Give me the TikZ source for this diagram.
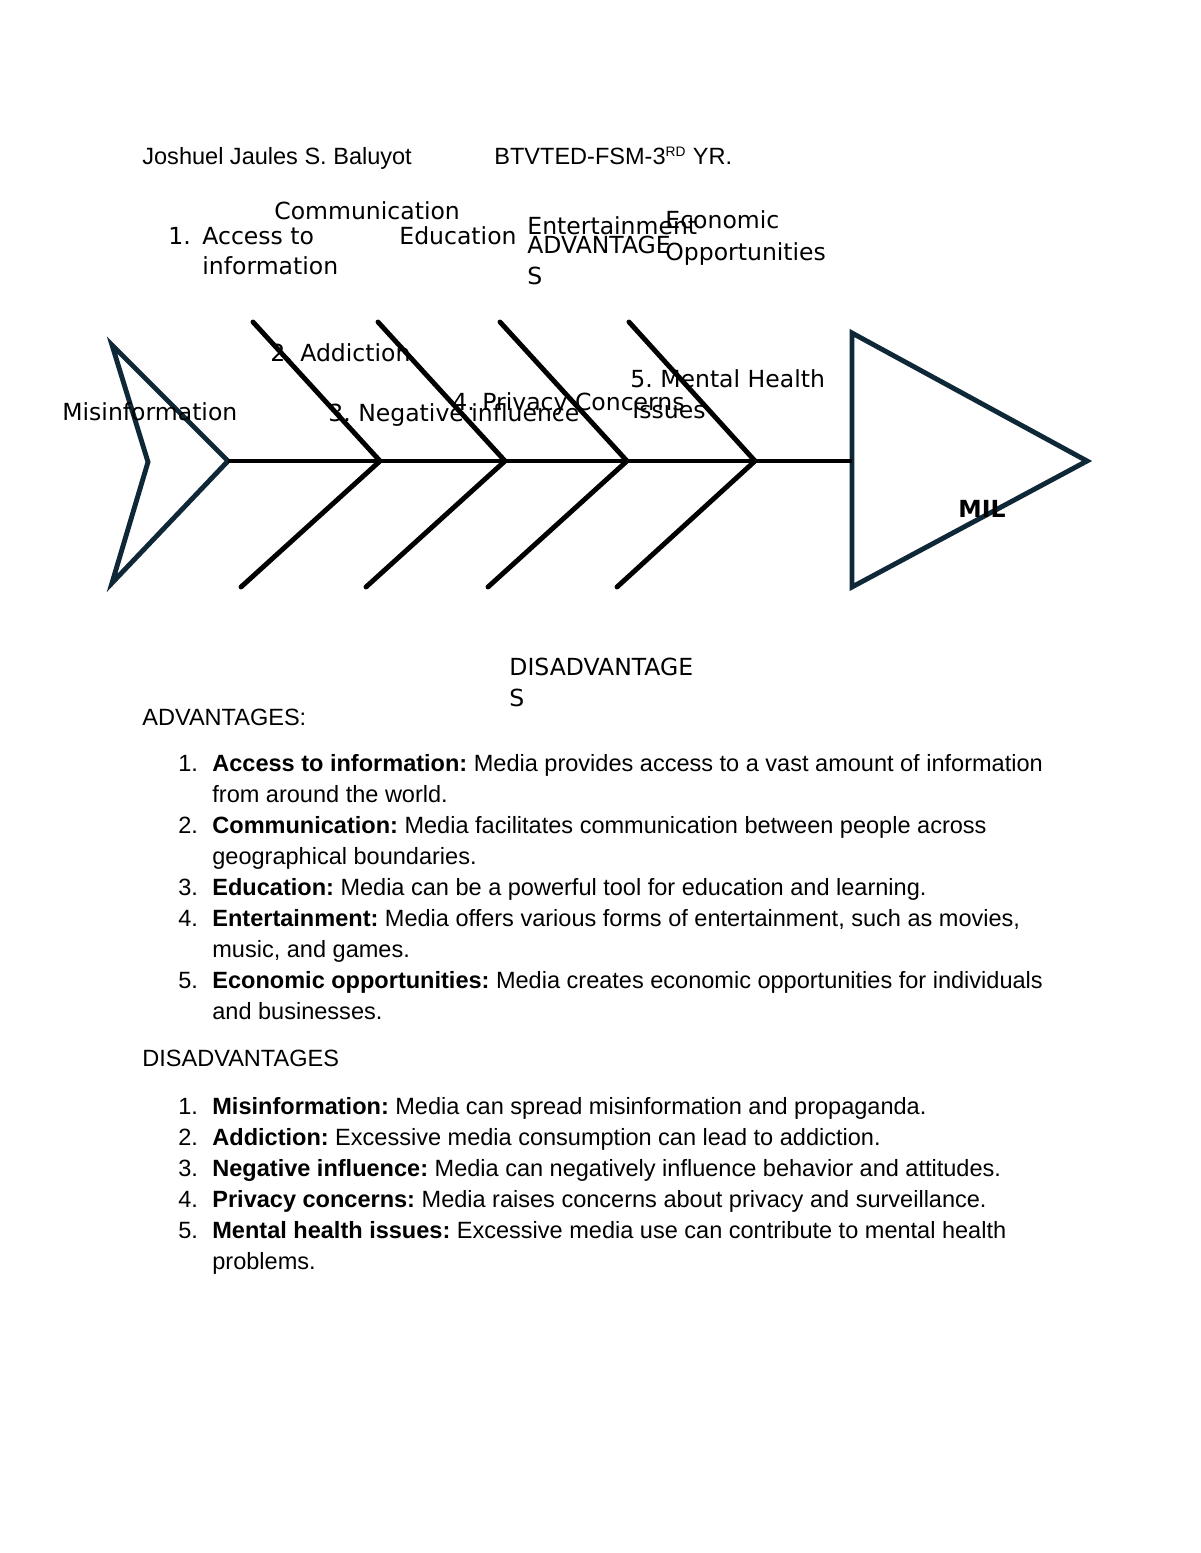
\documentclass[tikz,border=0pt]{standalone}
\usepackage{fontspec}
\setmainfont{Liberation Sans}
\newfontfamily\labelfont{DejaVu Sans}
\frenchspacing
\definecolor{fishnavy}{RGB}{14,40,56}
\tikzset{
  bone/.style={line width=2.5pt, line cap=round},
  fishoutline/.style={line width=2.5pt, draw=fishnavy, line join=miter},
  lbl/.style={anchor=base west, inner sep=0pt, font=\labelfont\fontsize{12}{15}\selectfont},
  body/.style={anchor=base west, inner sep=0pt, font=\fontsize{12}{15}\selectfont}
}
\begin{document}
\begin{tikzpicture}[x=0.51pt,y=0.51pt,yscale=-1,xscale=1]
\useasboundingbox (0,0) rectangle (1200,1553);

% Header
\node[body] (name) at (142,165) {Joshuel Jaules S. Baluyot};
\node[body] (course) at (494,165) {BTVTED-FSM-3\textsuperscript{\fontsize{7}{7}\selectfont RD} YR.};

% Fish points
\coordinate (tail) at (228,461);
\coordinate (head) at (852,461);
\coordinate (j1) at (380,461);
\coordinate (j2) at (505,461);
\coordinate (j3) at (627,461);
\coordinate (j4) at (755,461);
\coordinate (t1) at (253,322);
\coordinate (t2) at (378,322);
\coordinate (t3) at (500,322);
\coordinate (t4) at (629,322);
\coordinate (b1) at (241,587);
\coordinate (b2) at (366,587);
\coordinate (b3) at (488,587);
\coordinate (b4) at (617,587);

%Shape: Tail
\draw[fishoutline] (112,345) -- (tail) -- (112,583) -- (148,462) -- cycle;
%Shape: Head
\draw[fishoutline] (852,333) -- (1087,461) -- (852,587) -- cycle;
%Straight Lines: spine
\draw[bone, line cap=butt] (tail) -- (head);
%Straight Lines: bones
\draw[bone] (t1) -- (j1) -- (b1);
\draw[bone] (t2) -- (j2) -- (b2);
\draw[bone] (t3) -- (j3) -- (b3);
\draw[bone] (t4) -- (j4) -- (b4);

% Text Node: advantages
\node[lbl] (comm) at (274,220) {Communication};
\node[lbl] (accnum) at (168,245) {1.};
\node[lbl] (acc) at (202,245) {Access to};
\node[lbl] (acc2) at (202,275) {information};
\node[lbl] (edu) at (399,245) {Education};
\node[lbl] (ent) at (527,235) {Entertainment};
\node[lbl] (adv) at (527,254) {ADVANTAGE};
\node[lbl] (adv2) at (527,284) {S};
\node[lbl] (eco) at (665,229) {Economic};
\node[lbl] (eco2) at (665,260) {Opportunities};

% Text Node: disadvantages
\node[lbl] (addict) at (270,361) {2. Addiction};
\node[lbl] (misinfo) at (62,420) {Misinformation};
\node[lbl] (neg) at (328,421) {3. Negative influence};
\node[lbl] (privacy) at (452,410) {4. Privacy Concerns};
\node[lbl] (mental) at (630,387) {5. Mental Health};
\node[lbl] (mental2) at (632,418) {Issues};
\node[lbl, font=\labelfont\bfseries\fontsize{12}{15}\selectfont] (mil) at (958,517) {MIL};
\node[lbl] (disadv) at (509,675) {DISADVANTAGE};
\node[lbl] (disadv2) at (509,706) {S};

% Text Node: advantages list
\node[body] (advhead) at (142,725) {ADVANTAGES:};
\node[body] (a1n) at (178,771) {1.};
\node[body] (a1) at (212,771) {\textbf{Access to information:} Media provides access to a vast amount of information};
\node[body] (a1b) at (212,802) {from around the world.};
\node[body] (a2n) at (178,833) {2.};
\node[body] (a2) at (212,833) {\textbf{Communication:} Media facilitates communication between people across};
\node[body] (a2b) at (212,864) {geographical boundaries.};
\node[body] (a3n) at (178,895) {3.};
\node[body] (a3) at (212,895) {\textbf{Education:} Media can be a powerful tool for education and learning.};
\node[body] (a4n) at (178,926) {4.};
\node[body] (a4) at (212,926) {\textbf{Entertainment:} Media offers various forms of entertainment, such as movies,};
\node[body] (a4b) at (212,957) {music, and games.};
\node[body] (a5n) at (178,988) {5.};
\node[body] (a5) at (212,988) {\textbf{Economic opportunities:} Media creates economic opportunities for individuals};
\node[body] (a5b) at (212,1019) {and businesses.};

% Text Node: disadvantages list
\node[body] (dishead) at (142,1066) {DISADVANTAGES};
\node[body] (d1n) at (178,1114) {1.};
\node[body] (d1) at (212,1114) {\textbf{Misinformation:} Media can spread misinformation and propaganda.};
\node[body] (d2n) at (178,1145) {2.};
\node[body] (d2) at (212,1145) {\textbf{Addiction:} Excessive media consumption can lead to addiction.};
\node[body] (d3n) at (178,1176) {3.};
\node[body] (d3) at (212,1176) {\textbf{Negative influence:} Media can negatively influence behavior and attitudes.};
\node[body] (d4n) at (178,1207) {4.};
\node[body] (d4) at (212,1207) {\textbf{Privacy concerns:} Media raises concerns about privacy and surveillance.};
\node[body] (d5n) at (178,1238) {5.};
\node[body] (d5) at (212,1238) {\textbf{Mental health issues:} Excessive media use can contribute to mental health};
\node[body] (d5b) at (212,1269) {problems.};

\end{tikzpicture}
\end{document}
